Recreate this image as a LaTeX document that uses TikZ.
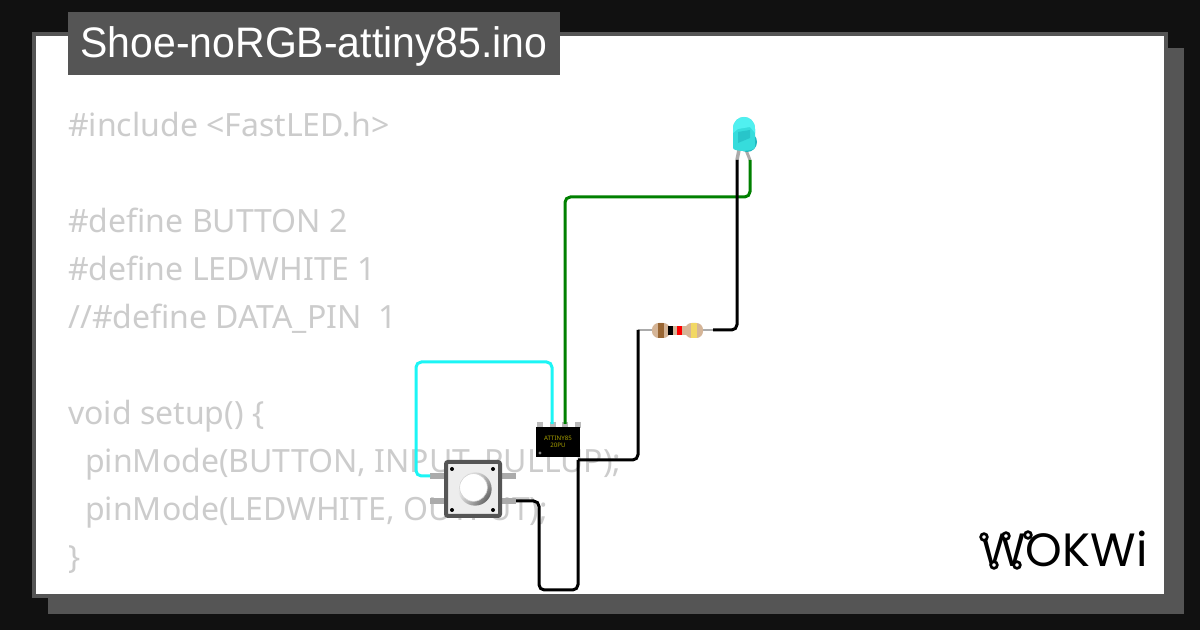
\documentclass[tikz,border=0pt]{standalone}
\usepackage{fontspec}
\setmainfont{Noto Sans}
\newfontfamily\titlefont[FakeStretch=0.96]{Liberation Sans}
\newfontfamily\logofont{Poppins}
\usetikzlibrary{positioning,shadings}
\definecolor{fondo}{HTML}{111111}
\definecolor{marco}{HTML}{555555}
\definecolor{codigo}{HTML}{CCCCCC}
\definecolor{patilla}{HTML}{ABABAB}
\definecolor{cuerpoR}{HTML}{D5B597}
\definecolor{verde}{HTML}{008000}
\definecolor{cian}{HTML}{1CF5F5}
\definecolor{ledA}{HTML}{36DCDC}
\definecolor{ledB}{HTML}{50F0F0}
\definecolor{ledC}{HTML}{1FB5BE}
\definecolor{letraChip}{HTML}{A8A000}
\definecolor{bandaY}{HTML}{F2D864}
\tikzset{
  lineacod/.style={anchor=base west,text=codigo,inner sep=0pt,font=\fontsize{24}{24}\selectfont},
  cable/.style={line width=2.25pt,rounded corners=4pt},
  pata/.style={line width=4.2pt,patilla},
  punto/.style={circle,fill=black,inner sep=0pt,minimum size=3pt},
  nudo/.style={circle,draw=black,fill=white,line width=2pt,inner sep=0pt,minimum size=5pt},
}
\begin{document}
\begin{tikzpicture}[x=0.75pt,y=-0.75pt]
\useasboundingbox (0,0) rectangle (1200,630);
%fondo y marco
\fill [fondo] (0,0) rectangle (1200,630);
\fill [marco] (48,48) rectangle (1184,614);
\fill [marco] (32,32) rectangle (1168,598);
\fill [white] (36,36) rectangle (1164,594);

%Titulo
\fill [marco] (68,12) rectangle (560,75);
\node (titulo) [text=white,inner sep=0pt,anchor=base,font=\titlefont\fontsize{32}{32}\selectfont] at (314,58) {Shoe-noRGB-attiny85.ino};

%Lineas del programa
\foreach \n/\x/\y/\t in {a/68/137/{\#include <FastLED.h>},b/68/233/{\#define BUTTON 2},c/68/281/{\#define LEDWHITE 1},d/68/329/{//\#define DATA\_PIN\ \ 1},e/68/425/{void setup() \{},f/85/473/{pinMode(BUTTON, INPUT\_PULLUP);},g/85/521/{pinMode(LEDWHITE, OUTPUT);},h/68/569/{\}}}
	\node (cod\n) [lineacod] at (\x,\y) {\t};

%Puntos de conexion
\coordinate (chipB) at (552,424);
\coordinate (chipC) at (565,424);
\coordinate (chipS) at (578,460);
\coordinate (btnL) at (430,476);
\coordinate (btnR) at (516,501);
\coordinate (resL) at (638,330);
\coordinate (resR) at (713,330);
\coordinate (ledK) at (737,160);
\coordinate (ledP) at (750,160);
\coordinate (bendCian) at (416,362);
\coordinate (bendVerde) at (750,197);
\coordinate (bendNegro) at (539,590);

%Patillas del pulsador
\foreach \y in {476,501} {
	\draw [pata] (430,\y) -- (444,\y);
	\draw [pata] (502,\y) -- (516,\y);
}
%Pulsador
\node (pulsador) [draw=marco,line width=3pt,fill=black!7,rounded corners=1.5pt,minimum size=40.5pt,inner sep=0pt] at (473,489) {};
\foreach \x/\y in {452/469,493/469,452/510,493/510}
	\node (p\x\y) [punto] at (\x,\y) {};
\shade [upper left=white,lower right=black!75,upper right=black!30,lower left=black!15] (475,489) circle (12.5pt);
\fill [white,draw=black!18,line width=0.4pt] (473.5,487.5) circle (10.4pt);

%Chip
\foreach \x in {540,553,565,578}
	\draw [line width=4.2pt,black!27] (\x,422) -- (\x,428);
\node (chip) [fill=black,text=letraChip,minimum width=33pt,minimum height=23pt,inner sep=0pt,align=center,font=\fontsize{4.6}{5.4}\selectfont\bfseries] at (558,442) {ATTINY85\\20PU};
\node (marca) [circle,fill=black!50,inner sep=0pt,minimum size=2.4pt] at (540,453) {};

%Resistencia
\draw [line width=2pt,patilla] (resL) -- (resR);
\fill [cuerpoR,rounded corners=5pt] (652,323) rectangle (670,338);
\fill [cuerpoR,rounded corners=5pt] (685,323) rectangle (703,338);
\fill [cuerpoR] (660,326) rectangle (695,335);
\fill [brown!80!black] (658,323) rectangle (664,338);
\fill [black] (668,326) rectangle (673,335);
\fill [red] (677,326) rectangle (682,335);
\fill [bandaY] (691,323) rectangle (697,338);

%LED
\draw [line width=2.6pt,patilla] (739,150) -- (ledK);
\draw [line width=2.2pt,patilla] (746,150) -- (ledP);
\fill [ledC] (747,142) circle (7.5pt);
\fill [ledA] (733,148) .. controls (733,152) and (755,152) .. (755,147) -- (755,129) .. controls (755,113) and (733,113) .. (733,129) -- cycle;
\fill [ledB] (733,133) -- (733,129) .. controls (733,113) and (755,113) .. (755,129) -- (755,133) -- (750,127) -- (738,129) -- cycle;
\fill [ledC!60!ledA] (738,132) -- (750,130) -- (750,138) -- (738,143) -- cycle;

%Cables
\draw [cable,cian] (chipB) |- (bendCian) |- (btnL);
\draw [cable,verde] (chipC) |- (bendVerde) -- (ledP);
\draw [cable,black] (chipS) -| (resL);
\draw [cable,black] (resR) -| (ledK);
\draw [cable,black] (btnR) -| (bendNegro) -| (chipS);

%Logotipo
\node (logo) [anchor=base west,inner sep=0pt,font=\logofont\fontsize{35}{35}\selectfont] at (980,567) {WOKWi};
\foreach \x/\y in {984/537,1006/536,1028/535,994/565,1017/565}
	\node (n\x) [nudo] at (\x,\y) {};
\end{tikzpicture}
\end{document}
